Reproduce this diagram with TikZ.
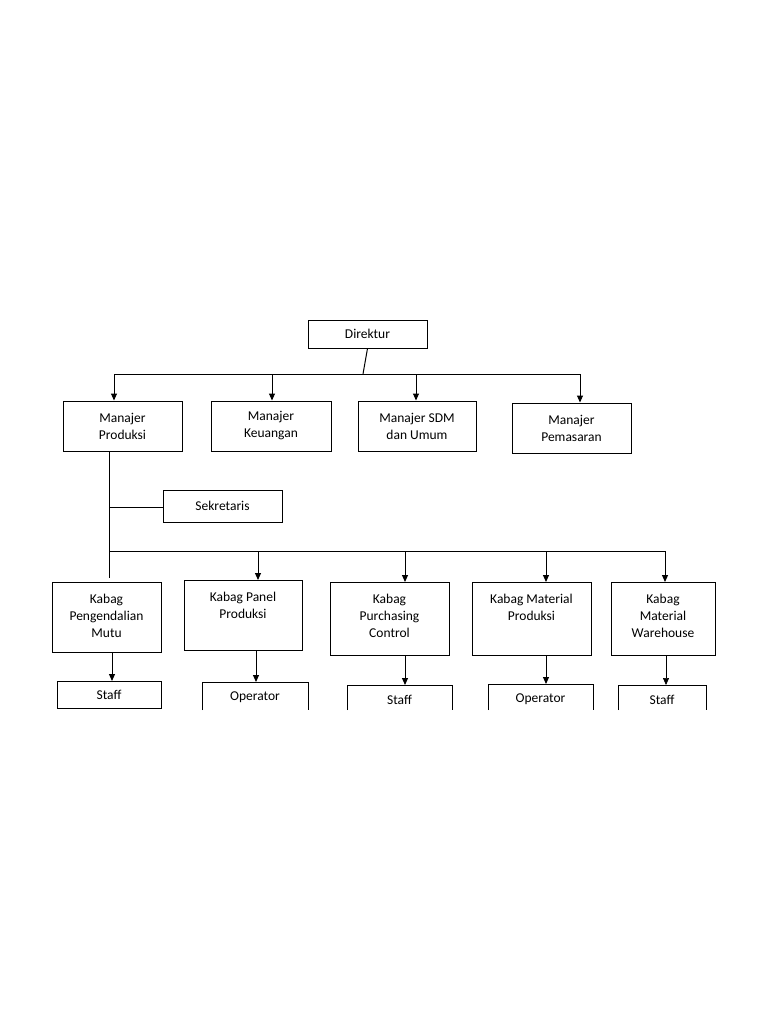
\documentclass[tikz,border=0pt]{standalone}
\usepackage{fontspec}
\setmainfont{Carlito}
\usetikzlibrary{arrows.meta}
\begin{document}
\begin{tikzpicture}[x=1pt,y=-1pt,
  bx/.style={draw,line width=1pt,align=center,font=\fontsize{13.5}{17}\selectfont,inner sep=0pt},
  tx/.style={align=center,font=\fontsize{13.5}{17}\selectfont,inner sep=0pt},
  ln/.style={line width=1pt},
  ar/.style={line width=1pt,-{Triangle[length=7pt,width=6pt]}}]
\useasboundingbox (0,0) rectangle (768,1024);
\fill[white] (0,0) rectangle (768,1024);
\newcommand{\bxat}[6]{\node[bx,minimum width=#3-#2,minimum height=#5-#4] (#1) at ({(#2+#3)/2},{(#4+#5)/2}) {#6};}
\bxat{dir}{308}{427}{320}{348}{Direktur}
\bxat{mp}{63}{182}{401}{451}{Manajer\\Produksi}
\bxat{mk}{211}{331}{401}{451}{Manajer\\Keuangan}
\bxat{ms}{358}{476}{401}{451}{Manajer SDM\\dan Umum}
\bxat{mpe}{512}{631}{403}{453}{Manajer\\Pemasaran}
\bxat{sek}{163}{282}{490}{522}{Sekretaris}
\node[bx,minimum width=109,minimum height=70,anchor=north] (k1) at (106.5,582) {};
\node[tx] at (106.5,616) {Kabag\\Pengendalian\\Mutu};
\node[bx,minimum width=118,minimum height=70,anchor=north] (k2) at (243,580) {};
\node[tx] at (243,605) {Kabag Panel\\Produksi};
\node[bx,minimum width=119,minimum height=73,anchor=north] (k3) at (389.5,582) {};
\node[tx] at (389.5,616) {Kabag\\Purchasing\\Control};
\node[bx,minimum width=119,minimum height=73,anchor=north] (k4) at (531.5,582) {};
\node[tx] at (531.5,607) {Kabag Material\\Produksi};
\node[bx,minimum width=104,minimum height=73,anchor=north] (k5) at (663,582) {};
\node[tx] at (663,616) {Kabag\\Material\\Warehouse};
\bxat{s1}{57}{161}{681}{708}{Staff}
% open-bottom boxes (cut off)
\node[tx] (s2) at (255,697) {Operator};
\node[tx] (s3) at (399.5,700) {Staff};
\node[tx] (s4) at (540.5,699) {Operator};
\node[tx] (s5) at (662,700) {Staff};
\draw[ln] (202,710) -- (202,682) -- (308,682) -- (308,710);
\draw[ln] (347,710) -- (347,685) -- (452,685) -- (452,710);
\draw[ln] (488,710) -- (488,684) -- (593,684) -- (593,710);
\draw[ln] (618,710) -- (618,685) -- (706,685) -- (706,710);
% top level
\coordinate (t0) at (363,374);
\coordinate (t1) at (114,374);
\coordinate (t2) at (272,374);
\coordinate (t3) at (416,374);
\coordinate (t4) at (580,374);
\draw[ln] (dir.south) -- (t0);
\draw[ln] (t1) -- (t4);
\draw[ar] (t1) -- (t1|-mp.north);
\draw[ar] (t2) -- (t2|-mk.north);
\draw[ar] (t3) -- (t3|-ms.north);
\draw[ar] (t4) -- (t4|-mpe.north);
% production branch
\coordinate (p0) at (109,451);
\coordinate (p1) at (109,578);
\coordinate (p2) at (109,551);
\coordinate (ps) at (109,507);
\draw[ln] (p0) -- (p1);
\draw[ln] (ps) -- (sek.west|-ps);
\coordinate (b2) at (258,551);
\coordinate (b3) at (405,551);
\coordinate (b4) at (546,551);
\coordinate (b5) at (665,551);
\draw[ln] (p2) -- (b5);
\draw[ar] (b2) -- (b2|-k2.north);
\draw[ar] (b3) -- (b3|-k3.north);
\draw[ar] (b4) -- (b4|-k4.north);
\draw[ar] (b5) -- (b5|-k5.north);
% to staff
\draw[ar] (112,652) -- (112,681);
\draw[ar] (256,650) -- (256,682);
\draw[ar] (405,655) -- (405,685);
\draw[ar] (546,655) -- (546,684);
\draw[ar,line width=0.7pt] (666,655) -- (666,685);
\end{tikzpicture}
\end{document}
